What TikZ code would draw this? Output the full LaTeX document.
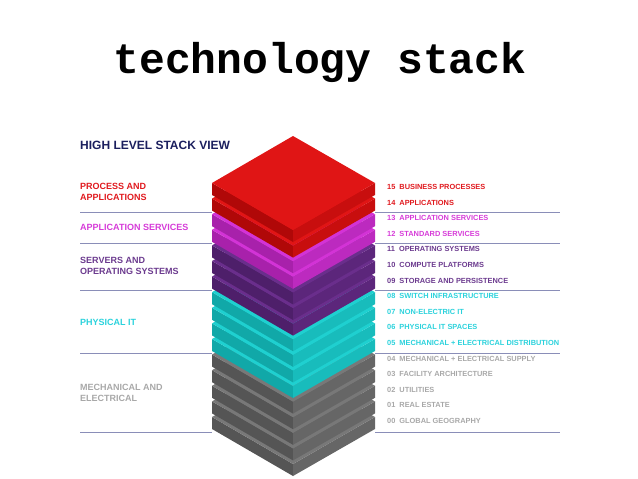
\documentclass[tikz,border=0pt]{standalone}
\usepackage{fontspec}
\setmainfont{Liberation Sans}
\newfontfamily\monob{Liberation Mono}
\definecolor{rT}{HTML}{E01515}\definecolor{rL}{HTML}{B00808}\definecolor{rR}{HTML}{C80E0E}
\definecolor{mT}{HTML}{D333D6}\definecolor{mL}{HTML}{A821AB}\definecolor{mR}{HTML}{BC2ABF}
\definecolor{pT}{HTML}{6A2E8C}\definecolor{pL}{HTML}{4E1F6A}\definecolor{pR}{HTML}{5C267B}
\definecolor{cT}{HTML}{1FD0D0}\definecolor{cL}{HTML}{11A8A8}\definecolor{cR}{HTML}{18BCBC}
\definecolor{gT}{HTML}{787878}\definecolor{gL}{HTML}{555555}\definecolor{gR}{HTML}{666666}
\definecolor{navy}{HTML}{1B1F5E}\definecolor{lred}{HTML}{E0191E}\definecolor{lmag}{HTML}{D63BD8}
\definecolor{lpur}{HTML}{6B3A8E}\definecolor{lcya}{HTML}{2BD2DC}\definecolor{lgry}{HTML}{A8A8A8}
\definecolor{rule}{HTML}{8A8EB8}
\tikzset{lab/.style={anchor=west,font=\bfseries\fontsize{9}{10.5}\selectfont,align=left,inner sep=0pt},
rlab/.style={anchor=west,font=\bfseries\fontsize{7.4}{8}\selectfont,inner sep=0pt},
sep/.style={draw=rule,line width=0.6pt}}
\begin{document}
\begin{tikzpicture}[x=1pt,y=-1pt]
\useasboundingbox (0,0) rectangle (638,479);
\node[font=\monob\bfseries\fontsize{43}{46}\selectfont] (title) at (320,62) {technology stack};
\node[anchor=west,font=\bfseries\fontsize{12}{14}\selectfont,text=navy,inner sep=0pt] (hdr) at (80,145) {HIGH LEVEL STACK VIEW};
% slabs
\foreach \i/\t/\l/\r in {0/gT/gL/gR,1/gT/gL/gR,2/gT/gL/gR,3/gT/gL/gR,4/gT/gL/gR,5/cT/cL/cR,6/cT/cL/cR,7/cT/cL/cR,8/cT/cL/cR,9/pT/pL/pR,10/pT/pL/pR,11/pT/pL/pR,12/mT/mL/mR,13/mT/mL/mR,14/rT/rL/rR,15/rT/rL/rR}{
 \pgfmathsetmacro\yy{183+(15-\i)*15.6}
 \fill[\l] (212,\yy) -- (293,\yy+47) -- (293,\yy+59) -- (212,\yy+12) -- cycle;
 \fill[\r] (375,\yy) -- (293,\yy+47) -- (293,\yy+59) -- (375,\yy+12) -- cycle;
 \fill[\t] (212,\yy) -- (293,\yy-47) -- (375,\yy) -- (293,\yy+47) -- cycle;
}
% separator lines
\foreach \y in {212,243,290,353,432}{
 \draw[sep] (80,\y) -- (212,\y);
 \draw[sep] (375,\y) -- (560,\y);
}
% left labels
\node[lab,text=lred] (l1) at (80,192) {PROCESS AND\\APPLICATIONS};
\node[lab,text=lmag] (l2) at (80,227) {APPLICATION SERVICES};
\node[lab,text=lpur] (l3) at (80,266) {SERVERS AND\\OPERATING SYSTEMS};
\node[lab,text=lcya] (l4) at (80,322) {PHYSICAL IT};
\node[lab,text=lgry] (l5) at (80,393) {MECHANICAL AND\\ELECTRICAL};
% right labels
\foreach \n/\c/\s [count=\k from 0] in {15/lred/BUSINESS PROCESSES,14/lred/APPLICATIONS,13/lmag/APPLICATION SERVICES,12/lmag/STANDARD SERVICES,11/lpur/OPERATING SYSTEMS,10/lpur/COMPUTE PLATFORMS,09/lpur/STORAGE AND PERSISTENCE,08/lcya/SWITCH INFRASTRUCTURE,07/lcya/NON-ELECTRIC IT,06/lcya/PHYSICAL IT SPACES,05/lcya/MECHANICAL + ELECTRICAL DISTRIBUTION,04/lgry/MECHANICAL + ELECTRICAL SUPPLY,03/lgry/FACILITY ARCHITECTURE,02/lgry/UTILITIES,01/lgry/REAL ESTATE,00/lgry/GLOBAL GEOGRAPHY}{
 \node[rlab,text=\c] (r\n) at (387,187+\k*15.6) {\n\hspace{4pt}\s};
}
\end{tikzpicture}
\end{document}
